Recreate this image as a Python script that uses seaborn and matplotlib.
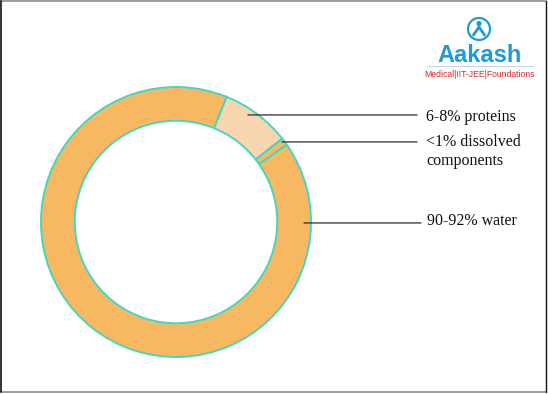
import matplotlib
matplotlib.use("Agg")
import matplotlib.pyplot as plt
import seaborn as sns
from matplotlib.lines import Line2D
from matplotlib.patches import Ellipse

# ---- data ----
categories = ["6-8% proteins", "<1% dissolved\ncomponents", "90-92% water"]
shares = [8.3, 0.9, 90.8]
colors = ["#FAD6B0", "#F8B862", "#F8B862"]

sns.set_theme(style="white")
plt.rcParams["font.family"] = ["Liberation Serif", "DejaVu Serif"]

W, H = 548, 394
fig = plt.figure(figsize=(W / 100, H / 100), dpi=100)
fig.patch.set_facecolor("white")


def fx(x):
    return x / W


def fy(y):
    return (H - y) / H


# pie axes: centre (176, 222) px, radius 135 px
cx, cy, R = 176, 222, 135
half = 140
ax = fig.add_axes([fx(cx - half), fy(cy + half), 2 * half / W, 2 * half / H])
wedges, _ = ax.pie(
    shares,
    colors=colors,
    startangle=68,
    counterclock=False,
    radius=1.0,
    wedgeprops=dict(width=0.25, edgecolor="#45D6C2", linewidth=1.4),
)
lim = half / R
ax.set_xlim(-lim, lim)
ax.set_ylim(-lim, lim)
ax.set_aspect("equal")
ax.axis("off")

# leader lines and labels
anchors = [(0.533, 0.793), (0.785, 0.593), (0.948, -0.007)]
line_end_x = [417, 417, 421]
text_x = [426, 426, 427]
baseline_off = [6.5, 2.5, 2.5]
line_step = 21
fig.canvas.draw()
for lab, anc, lx, tx, off in zip(categories, anchors, line_end_x, text_x, baseline_off):
    disp = ax.transData.transform(anc)
    y_px = H - disp[1]
    ax.annotate(
        "",
        xy=anc,
        xycoords="data",
        xytext=(fx(lx), fy(y_px)),
        textcoords="figure fraction",
        arrowprops=dict(arrowstyle="-", color="#2a2a2a", lw=0.9, shrinkA=0, shrinkB=0),
    )
    nlines = lab.count("\n") + 1
    fig.text(fx(tx), fy(y_px + off + line_step * (nlines - 1)), lab, fontsize=11.5,
             color="#111111", ha="left", va="baseline", linespacing=1.3)

# ---- logo ----
blue = "#1E9AD8"
fig.add_artist(Ellipse((fx(479), fy(29)), width=22 / W, height=22 / H,
                       transform=fig.transFigure, fill=False, edgecolor=blue, lw=1.6))
fig.add_artist(Ellipse((fx(479), fy(23.5)), width=3.8 / W, height=3.8 / H,
                       transform=fig.transFigure, color=blue))
fig.add_artist(Line2D([fx(479), fx(473.5)], [fy(27), fy(35)], transform=fig.transFigure,
                      color=blue, lw=2.0, solid_capstyle="round"))
fig.add_artist(Line2D([fx(479), fx(484.5)], [fy(27), fy(35)], transform=fig.transFigure,
                      color=blue, lw=2.0, solid_capstyle="round"))
fig.text(fx(479.5), fy(61.5), "Aakash", fontsize=17, fontweight="bold", color=blue,
         family=["Liberation Sans", "DejaVu Sans"], ha="center", va="baseline")
fig.add_artist(Line2D([fx(427), fx(533)], [fy(66), fy(66)], transform=fig.transFigure,
                      color="#B9CFE0", lw=0.6))
fig.text(fx(479.5), fy(77), "Medical|IIT-JEE|Foundations", fontsize=6.2, color="#E3262C",
         family=["Liberation Sans", "DejaVu Sans"], ha="center", va="baseline")

# ---- frame ----
fig.add_artist(Line2D([fx(0), fx(546)], [fy(1), fy(1)], transform=fig.transFigure,
                      color="#8c8c8c", lw=1.2))
fig.add_artist(Line2D([fx(0), fx(546)], [fy(392), fy(392)], transform=fig.transFigure,
                      color="#8c8c8c", lw=1.2))
fig.add_artist(Line2D([fx(1.3), fx(1.3)], [fy(1), fy(392)], transform=fig.transFigure,
                      color="#111111", lw=1.2))
fig.add_artist(Line2D([fx(545.5), fx(545.5)], [fy(1), fy(392)], transform=fig.transFigure,
                      color="#111111", lw=1.0))

fig.savefig("out.png", dpi=100, facecolor="white")
